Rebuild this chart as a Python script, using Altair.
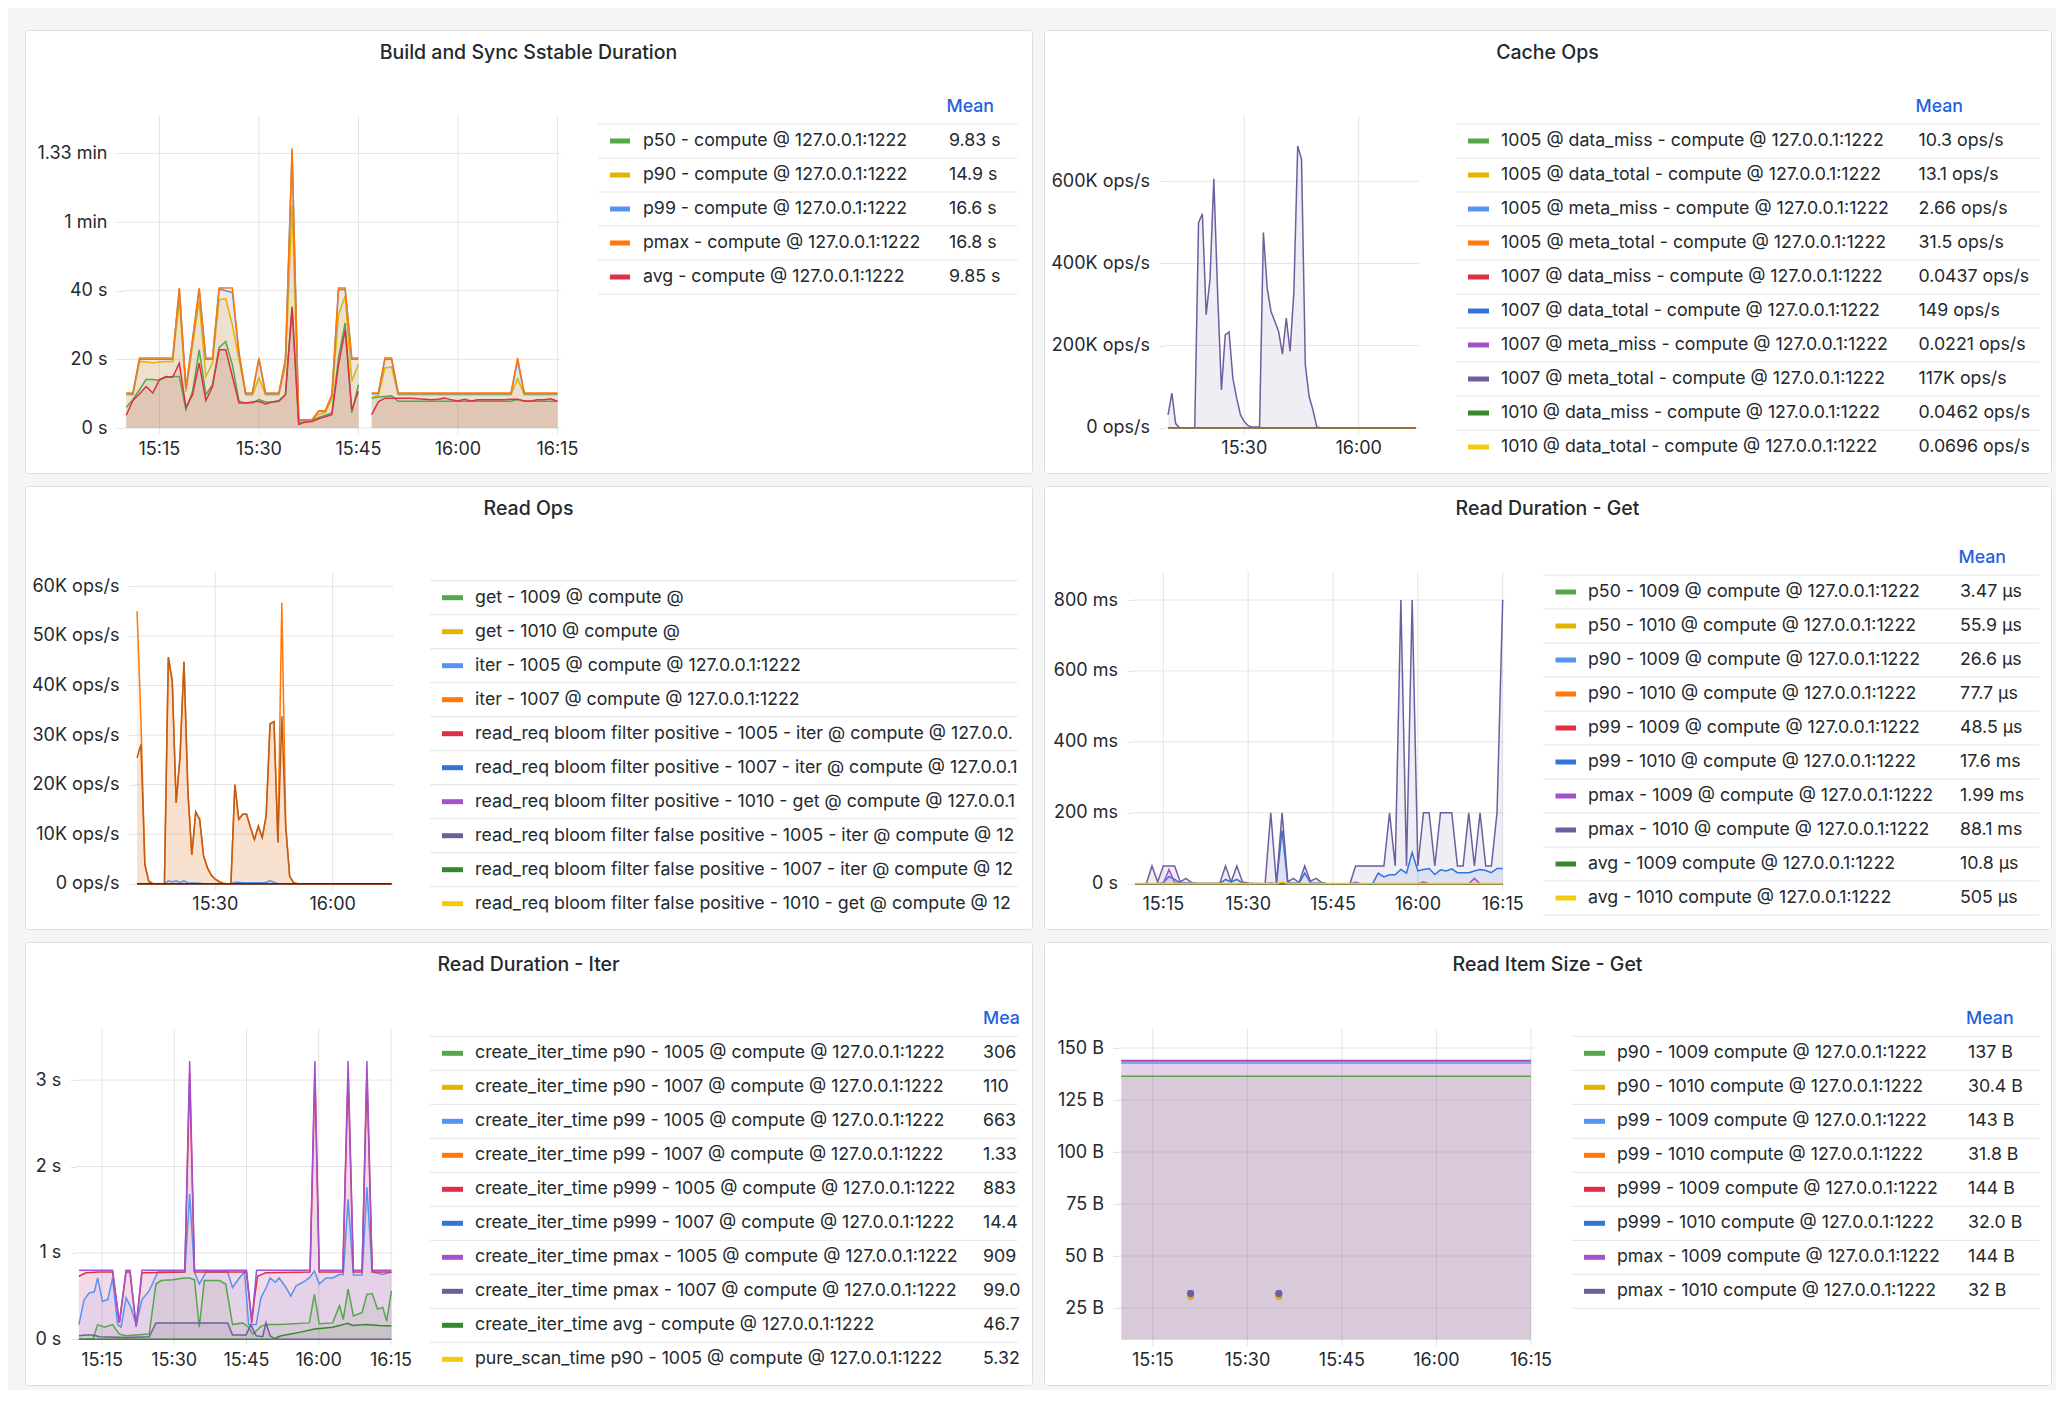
import altair as alt
import pandas as pd

FONT = "Inter"
TEXT = "#24292E"
GRID = "#E4E4E5"
SEP = "#E3E4E6"
HDR = "#1F62E0"
LEG_FS = 17.75
PALETTE = ["#56A64B", "#E0B400", "#5794F2", "#FF780A", "#E02F44", "#3274D9",
           "#A352CC", "#705DA0", "#37872D", "#F2CC0C", "#447EBC", "#C15C17", "#890F02"]

BASE = pd.Timestamp("2024-01-01 15:10:00")
MINUTES = list(range(66))          # one sample per minute, 15:10 .. 16:15

# x tick positions (minutes after 15:10) and their labels
ticks_full = [5, 20, 35, 50, 65]
labels_full = ["15:15", "15:30", "15:45", "16:00", "16:15"]
ticks_half = [20, 50]
labels_half = ["15:30", "16:00"]

# ---------------- Build and Sync Sstable Duration (seconds) ----------------
bs_names = ["p50 - compute @ 127.0.0.1:1222", "p90 - compute @ 127.0.0.1:1222",
            "p99 - compute @ 127.0.0.1:1222", "pmax - compute @ 127.0.0.1:1222",
            "avg - compute @ 127.0.0.1:1222"]
bs_means = ["9.83 s", "14.9 s", "16.6 s", "16.8 s", "9.85 s"]
bs_p50 = [6.0, 8.3, 11.2, 14.1, 14.1, 13.9, 14.8, 15.0, 15.0, 5.3,
          10.7, 22.8, 9.7, 12.6, 23.5, 25.2, 18.4, 7.8, 7.3, 7.3,
          8.3, 7.6, 7.6, 8.0, 9.7, 35.4, 1.5, 2.0, 2.3, 3.1,
          3.7, 4.4, 20.4, 30.6, 4.4, 12.6, None, 8.7, 9.0, 9.2,
          9.4, 7.8, 7.8, 7.8, 7.8, 7.8, 7.8, 7.8, 7.8, 7.8,
          7.8, 7.8, 7.8, 7.8, 7.8, 7.8, 7.8, 7.8, 7.8, 8.3,
          7.8, 7.8, 7.8, 7.8, 7.8, 7.8]
bs_p90 = [9.7, 9.7, 19.4, 19.2, 19.0, 19.2, 19.4, 19.4, 37.0, 10.5,
          24.0, 37.0, 15.0, 18.9, 37.4, 37.7, 30.0, 20.0, 9.7, 9.5,
          14.6, 9.7, 9.7, 9.7, 18.0, 65.0, 2.0, 2.2, 2.4, 4.0,
          4.5, 8.5, 33.0, 38.5, 13.6, 18.6, None, 8.9, 9.5, 17.5,
          17.8, 9.7, 9.7, 9.7, 9.7, 9.7, 9.7, 9.7, 9.7, 9.7,
          9.7, 9.7, 9.7, 9.7, 9.7, 9.7, 9.7, 9.7, 9.7, 14.4,
          9.7, 9.7, 9.7, 9.7, 9.7, 9.7]
bs_p99 = [10.0, 10.0, 20.0, 20.0, 20.0, 20.0, 20.0, 20.0, 40.5, 11.5,
          25.5, 40.5, 20.0, 20.0, 40.5, 40.0, 39.5, 21.5, 10.0, 10.0,
          20.0, 10.0, 10.0, 10.0, 19.8, 81.0, 2.3, 2.3, 2.3, 4.9,
          4.9, 9.6, 40.2, 40.5, 20.0, 20.0, None, 10.0, 10.0, 20.0,
          20.0, 10.0, 10.0, 10.0, 10.0, 10.0, 10.0, 10.0, 10.0, 10.0,
          10.0, 10.0, 10.0, 10.0, 10.0, 10.0, 10.0, 10.0, 10.0, 19.5,
          10.0, 10.0, 10.0, 10.0, 10.0, 10.0]
bs_pmax = [10.2, 10.2, 20.4, 20.4, 20.4, 20.4, 20.4, 20.4, 40.8, 11.7,
           26.0, 40.8, 20.4, 20.4, 40.8, 40.8, 40.8, 22.0, 10.2, 10.2,
           20.4, 10.2, 10.2, 10.2, 20.0, 81.5, 2.4, 2.4, 2.4, 5.0,
           5.0, 9.7, 40.8, 40.8, 20.4, 20.4, None, 10.2, 10.2, 20.4,
           20.4, 10.2, 10.2, 10.2, 10.2, 10.2, 10.2, 10.2, 10.2, 10.2,
           10.2, 10.2, 10.2, 10.2, 10.2, 10.2, 10.2, 10.2, 10.2, 20.4,
           10.2, 10.2, 10.2, 10.2, 10.2, 10.2]
bs_avg = [3.7, 8.0, 10.0, 12.1, 10.2, 14.1, 15.0, 14.8, 18.9, 6.0,
          9.7, 18.9, 8.0, 12.1, 22.8, 22.8, 15.0, 7.3, 7.3, 7.6,
          7.8, 7.0, 7.6, 7.8, 9.7, 35.0, 1.0, 1.7, 1.9, 2.7,
          3.3, 3.9, 18.4, 28.6, 5.3, 10.7, None, 3.9, 7.6, 8.7,
          8.7, 8.7, 8.7, 8.7, 8.5, 8.4, 8.2, 8.4, 8.7, 8.2,
          7.9, 8.4, 7.9, 8.2, 8.2, 8.2, 8.2, 8.2, 8.4, 8.4,
          7.9, 7.9, 8.2, 8.2, 8.5, 7.8]

# ---------------- Cache Ops (ops/s) ----------------
co_names = ["1005 @ data_miss - compute @ 127.0.0.1:1222", "1005 @ data_total - compute @ 127.0.0.1:1222",
            "1005 @ meta_miss - compute @ 127.0.0.1:1222", "1005 @ meta_total - compute @ 127.0.0.1:1222",
            "1007 @ data_miss - compute @ 127.0.0.1:1222", "1007 @ data_total - compute @ 127.0.0.1:1222",
            "1007 @ meta_miss - compute @ 127.0.0.1:1222", "1007 @ meta_total - compute @ 127.0.0.1:1222",
            "1010 @ data_miss - compute @ 127.0.0.1:1222", "1010 @ data_total - compute @ 127.0.0.1:1222"]
co_means = ["10.3 ops/s", "13.1 ops/s", "2.66 ops/s", "31.5 ops/s", "0.0437 ops/s", "149 ops/s",
            "0.0221 ops/s", "117K ops/s", "0.0462 ops/s", "0.0696 ops/s"]
co_hidden = ["series 11", "series 12"]          # rows scrolled out of the legend
co_small = [10.3, 13.1, 2.66, 31.5, 0.0437, 149, 0.0221, None, 0.0462, 0.0696, 0.0, 0.0]
co_meta_total_1007 = [31000, 84000, 10000, 0, 0, 0, 0, 0, 499000, 521000,
                      275000, 361000, 606000, 328000, 92000, 226000, 233000, 120000, 72000, 31000,
                      15000, 5000, 2000, 2000, 2000, 475000, 340000, 283000, 259000, 234000,
                      179000, 267000, 186000, 332000, 686000, 654000, 153000, 76000, 43000, 2000,
                      0, 0, 0, 0, 0, 0, 0, 0, 0, 0,
                      0, 0, 0, 0, 0, 0, 0, 0, 0, 0,
                      0, 0, 0, 0, 0, 0]

# ---------------- Read Ops (ops/s) ----------------
ro_names = ["get - 1009 @ compute @", "get - 1010 @ compute @",
            "iter - 1005 @ compute @ 127.0.0.1:1222", "iter - 1007 @ compute @ 127.0.0.1:1222",
            "read_req bloom filter positive - 1005 - iter @ compute @ 127.0.0.1:1222",
            "read_req bloom filter positive - 1007 - iter @ compute @ 127.0.0.1:1222",
            "read_req bloom filter positive - 1010 - get @ compute @ 127.0.0.1:1222",
            "read_req bloom filter false positive - 1005 - iter @ compute @ 127.0.0.1:1222",
            "read_req bloom filter false positive - 1007 - iter @ compute @ 127.0.0.1:1222",
            "read_req bloom filter false positive - 1010 - get @ compute @ 127.0.0.1:1222"]
ro_hidden = ["series 11", "series 12", "series 13"]
ro_iter_1005 = [0, 0, 0, 0, 0, 0, 0, 0, 600, 350,
                600, 250, 600, 200, 150, 150, 100, 0, 0, 0,
                0, 0, 0, 0, 0, 300, 300, 200, 200, 200,
                200, 200, 200, 300, 600, 300, 0, 0, 0, 0,
                0, 0, 0, 0, 0, 0, 0, 0, 0, 0,
                0, 0, 0, 0, 0, 0, 0, 0, 0, 0,
                0, 0, 0, 0, 0, 0]
ro_iter_1007 = [55000, 33000, 3900, 500, 0, 0, 0, 0, 45700, 40900,
                16300, 25800, 44800, 18700, 5800, 14500, 13000, 5600, 3200, 1700,
                900, 400, 100, 0, 0, 20000, 13000, 14000, 14000, 11300,
                8900, 11600, 9300, 13700, 32300, 32700, 8300, 56700, 12000, 1500,
                200, 0, 0, 0, 0, 0, 0, 0, 0, 0,
                0, 0, 0, 0, 0, 0, 0, 0, 0, 0,
                0, 0, 0, 0, 0, 0]
ro_series12 = [25400, 28100, 3900, 500, 0, 0, 0, 0, 45700, 40900,
               16300, 25800, 44800, 18700, 5800, 14500, 13000, 5600, 3200, 1700,
               900, 400, 100, 0, 0, 20000, 13000, 14000, 14000, 11300,
               8900, 11600, 9300, 13700, 32300, 32700, 8300, 33800, 11300, 1500,
               200, 0, 0, 0, 0, 0, 0, 0, 0, 0,
               0, 0, 0, 0, 0, 0, 0, 0, 0, 0,
               0, 0, 0, 0, 0, 0]

# ---------------- Read Duration - Get (ms) ----------------
rg_names = ["p50 - 1009 @ compute @ 127.0.0.1:1222", "p50 - 1010 @ compute @ 127.0.0.1:1222",
            "p90 - 1009 @ compute @ 127.0.0.1:1222", "p90 - 1010 @ compute @ 127.0.0.1:1222",
            "p99 - 1009 @ compute @ 127.0.0.1:1222", "p99 - 1010 @ compute @ 127.0.0.1:1222",
            "pmax - 1009 @ compute @ 127.0.0.1:1222", "pmax - 1010 @ compute @ 127.0.0.1:1222",
            "avg - 1009 compute @ 127.0.0.1:1222", "avg - 1010 compute @ 127.0.0.1:1222"]
rg_means = ["3.47 µs", "55.9 µs", "26.6 µs", "77.7 µs", "48.5 µs", "17.6 ms", "1.99 ms", "88.1 ms",
            "10.8 µs", "505 µs"]
rg_small = [0.00347, 0.0559, 0.0266, 0.0777, 0.0485]
rg_p99_1010 = [0, 0, 0, 0, 0, 3, 20, 12, 2, 2,
               1, 0, 0, 0, 0, 0, 12, 5, 12, 2,
               0, 0, 0, 0, 2, 0, 150, 3, 2, 1,
               30, 3, 2, 1, 0, 0, 0, 0, 0, 0,
               0, 0, 0, 30, 19, 25, 25, 40, 30, 88,
               36, 40, 43, 26, 39, 36, 42, 31, 31, 31,
               36, 40, 37, 31, 43, 43]
rg_pmax_1009 = [(0, 0), (5, 0), (6, 40), (7, 3), (8, 0), (38, 0), (39, 4), (40, 0), (50, 0), (51, 5),
                (52, 0), (59, 0), (60, 15), (61, 0), (65, 0)]
rg_pmax_1010 = [0, 0, 0, 50, 5, 50, 50, 50, 5, 15,
                3, 1, 1, 1, 1, 2, 50, 5, 50, 5,
                2, 1, 0.5, 0, 200, 0, 200, 5, 15, 3,
                50, 7, 15, 3, 0, 0, 0, 0, 0, 50,
                50, 50, 50, 50, 50, 200, 50, 800, 50, 800,
                50, 200, 200, 50, 200, 200, 200, 50, 50, 200,
                50, 200, 50, 50, 200, 800]
rg_avg_1009 = [(0, 0.0108), (65, 0.0108)]
rg_avg_1010 = [(0, 0.5), (25, 0.5), (26, 5), (27, 0.5), (65, 0.5)]

# ---------------- Read Duration - Iter (seconds; vertices as (minute, value)) ----------------
ri_names = ["create_iter_time p90 - 1005 @ compute @ 127.0.0.1:1222",
            "create_iter_time p90 - 1007 @ compute @ 127.0.0.1:1222",
            "create_iter_time p99 - 1005 @ compute @ 127.0.0.1:1222",
            "create_iter_time p99 - 1007 @ compute @ 127.0.0.1:1222",
            "create_iter_time p999 - 1005 @ compute @ 127.0.0.1:1222",
            "create_iter_time p999 - 1007 @ compute @ 127.0.0.1:1222",
            "create_iter_time pmax - 1005 @ compute @ 127.0.0.1:1222",
            "create_iter_time pmax - 1007 @ compute @ 127.0.0.1:1222",
            "create_iter_time avg - compute @ 127.0.0.1:1222",
            "pure_scan_time p90 - 1005 @ compute @ 127.0.0.1:1222"]
ri_means = ["306", "110", "663", "1.33", "883", "14.4", "909", "99.0", "46.7", "5.32"]
ri_p90_1005 = [(0.2, 0.0), (3.1, 0.0), (4.1, 0.17), (5.5, 0.14), (7.2, 0.17), (8.6, 0.06), (10.0, 0.04),
               (14.8, 0.06), (16.2, 0.64), (17.25, 0.68), (19.7, 0.69), (22.1, 0.71), (23.2, 0.71),
               (24.2, 0.69), (25.2, 0.14), (26.25, 0.68), (29.4, 0.68), (30.7, 0.64), (32.1, 0.17),
               (34.2, 0.19), (35.45, 0.14), (36.3, 0.06), (38.0, 0.15), (39.05, 0.17), (41.8, 0.17),
               (48.05, 0.19), (49.1, 0.52), (50.1, 0.18), (52.9, 0.19), (54.3, 0.39), (55.1, 0.23),
               (56.1, 0.58), (57.2, 0.27), (59.0, 0.31), (60.0, 0.52), (61.1, 0.53), (62.2, 0.35),
               (63.3, 0.37), (64.1, 0.21), (65.1, 0.56)]
ri_p99_1005 = [(0.2, 0.17), (1.3, 0.46), (2.4, 0.54), (3.4, 0.55), (4.1, 0.71), (5.1, 0.44), (6.2, 0.46),
               (7.2, 0.71), (8.25, 0.17), (8.95, 0.14), (10.0, 0.48), (11.0, 0.37), (12.1, 0.17),
               (13.3, 0.46), (14.8, 0.56), (16.6, 0.78), (22.2, 0.78), (23.2, 1.68), (24.2, 0.78),
               (25.2, 0.64), (26.6, 0.78), (31.1, 0.78), (32.1, 0.60), (33.5, 0.71), (34.6, 0.78),
               (35.45, 0.17), (37.0, 0.17), (38.0, 0.48), (39.1, 0.60), (39.9, 0.71), (41.0, 0.66),
               (41.8, 0.71), (43.2, 0.60), (44.2, 0.50), (45.3, 0.62), (46.7, 0.66), (48.05, 0.71),
               (49.1, 0.79), (50.1, 0.64), (51.5, 0.71), (52.9, 0.71), (54.3, 0.75), (55.1, 0.75),
               (56.1, 1.62), (57.2, 0.745), (59.0, 0.745), (60.0, 1.76), (61.1, 0.78), (63.3, 0.75),
               (65.1, 0.78)]
ri_p999_1005 = [(0.2, 0.73), (1.7, 0.77), (4.4, 0.78), (7.2, 0.78), (8.6, 0.19), (10.0, 0.78), (10.8, 0.78),
                (12.1, 0.15), (13.3, 0.77), (22.2, 0.78), (23.2, 3.07), (24.2, 0.78), (35.0, 0.78),
                (36.1, 0.19), (36.6, 0.45), (37.3, 0.73), (39.0, 0.77), (48.2, 0.78), (49.2, 3.07),
                (50.1, 0.78), (55.0, 0.78), (56.1, 3.07), (57.2, 0.78), (59.0, 0.78), (60.0, 3.07),
                (61.1, 0.78), (65.1, 0.78)]
ri_pmax_1005 = [(0.2, 0.80), (7.2, 0.80), (8.6, 0.19), (10.0, 0.80), (10.8, 0.80), (12.1, 0.15), (13.3, 0.80),
                (22.2, 0.80), (23.2, 3.22), (24.2, 0.80), (35.0, 0.80), (36.1, 0.21), (37.1, 0.80),
                (48.2, 0.80), (49.2, 3.22), (50.1, 0.80), (55.0, 0.80), (56.1, 3.22), (57.2, 0.80),
                (59.0, 0.80), (60.0, 3.22), (61.1, 0.80), (65.1, 0.80)]
ri_pmax_1007 = [(0.2, 0.04), (1.7, 0.05), (3.1, 0.05), (4.5, 0.03), (10.0, 0.02), (14.8, 0.03), (16.2, 0.19),
                (31.1, 0.19), (32.1, 0.05), (34.9, 0.05), (35.9, 0.17), (37.0, 0.04), (38.35, 0.03),
                (39.05, 0.19), (39.9, 0.04), (41.0, 0.0), (65.1, 0.0)]
ri_avg = [(0.2, 0.0), (40.4, 0.0), (42.2, 0.04), (46.0, 0.08), (49.1, 0.12), (52.9, 0.14), (56.1, 0.185),
          (57.0, 0.16), (59.8, 0.17), (62.6, 0.16), (65.1, 0.155)]

# ---------------- Read Item Size - Get (bytes) ----------------
rs_names = ["p90 - 1009 compute @ 127.0.0.1:1222", "p90 - 1010 compute @ 127.0.0.1:1222",
            "p99 - 1009 compute @ 127.0.0.1:1222", "p99 - 1010 compute @ 127.0.0.1:1222",
            "p999 - 1009 compute @ 127.0.0.1:1222", "p999 - 1010 compute @ 127.0.0.1:1222",
            "pmax - 1009 compute @ 127.0.0.1:1222", "pmax - 1010 compute @ 127.0.0.1:1222"]
rs_means = ["137 B", "30.4 B", "143 B", "31.8 B", "144 B", "32.0 B", "144 B", "32 B"]
rs_1009 = [136.5, 142.8, 144.0, 143.8]           # p90, p99, p999, pmax (flat)
rs_1010_times = [11.0, 25.0]
rs_1010 = [30.4, 31.8, 32.0, 32.0]               # p90, p99, p999, pmax (isolated samples)


# ====================================================================
def ts(t):
    x = BASE + pd.Timedelta(minutes=t)
    return x.strftime("%Y-%m-%dT%H:%M:%S") + ".%03d" % (x.microsecond // 1000)


def dt(t):
    x = BASE + pd.Timedelta(minutes=t)
    return alt.DateTime(year=x.year, month=x.month, date=x.day, hours=x.hour, minutes=x.minute,
                        seconds=x.second, milliseconds=x.microsecond // 1000)


def mins(name, vals):
    return (name, MINUTES, vals)


def verts(name, pts):
    return (name, [p[0] for p in pts], [p[1] for p in pts])


def frame(series):
    rows = []
    for name, times, vals in series:
        assert len(times) == len(vals), name
        seg = 0
        for t, v in zip(times, vals):
            if v is None:
                seg += 1
                continue
            rows.append({"series": name, "time": ts(t), "value": v, "seg": f"{name}|{seg}"})
    return pd.DataFrame(rows)


W, H = 1007, 443


def panel(p):
    L, R, T, B = p["plot"]
    t0, t1 = p["tdom"]
    y0, y1 = p["ydom"]
    xs = alt.Scale(domain=[dt(t0), dt(t1)], range=[L, R])
    ys = alt.Scale(domain=[y0, y1], range=[B, T], zero=False, nice=False, clamp=True)
    keys = p["names"] + p.get("hidden", [])
    cs = alt.Scale(domain=keys, range=PALETTE[:len(keys)])

    yaxis = alt.Axis(values=p["yticks"], labelExpr=p["ylab"], grid=False, domain=False, ticks=True,
                     tickSize=6, tickColor=GRID, labelFont=FONT, labelFontSize=18, labelColor=TEXT,
                     labelPadding=9.5, offset=-L, labelOverlap=False, title=None)

    layers = []
    hg = alt.Chart(pd.DataFrame({"v": p["yticks"]})).mark_rule(color=GRID, strokeWidth=1).encode(
        y=alt.Y("v:Q", scale=ys, axis=None),
        x=alt.XDatum(dt(t0), type="temporal", scale=xs, axis=None),
        x2=alt.X2Datum(dt(t1)))
    xt = pd.DataFrame({"t": [ts(t) for t in p["xticks"]], "label": p["xlabels"]})
    vg = alt.Chart(xt).mark_rule(color=GRID, strokeWidth=1).encode(
        x=alt.X("t:T", scale=xs, axis=None),
        y=alt.YDatum(y0, type="quantitative", scale=ys, axis=None),
        y2=alt.Y2Datum(y1))
    vt = alt.Chart(xt).mark_rule(color=GRID, strokeWidth=1).encode(
        x=alt.X("t:T", scale=xs, axis=None), y=alt.value(B), y2=alt.value(B + 6))
    vl = alt.Chart(xt).mark_text(align="center", baseline="middle", font=FONT, fontSize=18,
                                 color=TEXT).encode(
        x=alt.X("t:T", scale=xs, axis=None), y=alt.value(B + 21.5), text="label:N")
    layers += [hg, vg, vt, vl]

    df = frame(p["series"])
    area = alt.Chart(df).mark_area(fillOpacity=0.1, interpolate="linear").encode(
        x=alt.X("time:T", scale=xs, axis=None),
        y=alt.Y("value:Q", scale=ys, axis=yaxis, stack=None),
        y2=alt.Y2Datum(y0),
        color=alt.Color("series:N", scale=cs, legend=None),
        detail="seg:N")
    line = alt.Chart(df).mark_line(strokeWidth=1.5, interpolate="linear").encode(
        x=alt.X("time:T", scale=xs, axis=None),
        y=alt.Y("value:Q", scale=ys, axis=None),
        color=alt.Color("series:N", scale=cs, legend=None),
        detail="seg:N")
    layers += [area, line]

    if "points" in p:
        pdf = frame(p["points"])
        pts = alt.Chart(pdf).mark_circle(size=48, opacity=1).encode(
            x=alt.X("time:T", scale=xs, axis=None),
            y=alt.Y("value:Q", scale=ys, axis=None),
            color=alt.Color("series:N", scale=cs, legend=None))
        layers.append(pts)

    # ---- legend table
    lg = p["legend"]
    n = len(p["names"])
    rs = alt.Scale(domain=[0, 1], range=[lg["y0"], lg["y0"] + 34], zero=False, nice=False)
    rows = pd.DataFrame({"row": list(range(n)), "series": p["names"]})
    seps = pd.DataFrame({"r": [i - 0.5 for i in range(lg["nsep"] + 1)]})
    layers.append(alt.Chart(seps).mark_rule(color=SEP, strokeWidth=1).encode(
        x=alt.value(lg["table"][0]), x2=alt.value(lg["table"][1]),
        y=alt.Y("r:Q", scale=rs, axis=None)))
    layers.append(alt.Chart(rows).mark_rule(strokeWidth=5).encode(
        x=alt.value(lg["sw"][0]), x2=alt.value(lg["sw"][1]),
        y=alt.Y("row:Q", scale=rs, axis=None),
        color=alt.Color("series:N", scale=cs, legend=None)))
    textkw = dict(align="left", baseline="middle", font=FONT, fontSize=LEG_FS, color=TEXT)
    if "limit" in lg:
        textkw.update(limit=lg["limit"], ellipsis="\u200b")
    layers.append(alt.Chart(rows).mark_text(**textkw).encode(
        x=alt.value(lg["tx"]), y=alt.Y("row:Q", scale=rs, axis=None), text="series:N"))
    if "means" in p:
        vrows = pd.DataFrame({"row": list(range(n)), "mean": p["means"]})
        layers.append(alt.Chart(vrows).mark_text(align="left", baseline="middle", font=FONT,
                                                 fontSize=LEG_FS, color=TEXT).encode(
            x=alt.value(lg["vx"]), y=alt.Y("row:Q", scale=rs, axis=None), text="mean:N"))
    if "header" in lg:
        hx, hy, ha = lg["hpos"]
        layers.append(alt.Chart(pd.DataFrame({"h": [lg["header"]]})).mark_text(
            align=ha, baseline="middle", font=FONT, fontSize=LEG_FS, fontWeight=500, color=HDR).encode(
            x=alt.value(hx), y=alt.value(hy), text="h:N"))

    layers.append(alt.Chart(pd.DataFrame({"title": [p["title"]]})).mark_text(
        align="center", baseline="middle", font=FONT, fontSize=19.5, fontWeight=500, color=TEXT).encode(
        x=alt.value(W / 2), y=alt.value(23), text="title:N"))

    return alt.layer(*layers).resolve_scale(y="independent").properties(width=W, height=H)


P1 = dict(
    title="Build and Sync Sstable Duration",
    plot=(97.5, 536, 86, 398), tdom=(-0.563, 65.54), ydom=(0, 90.9),
    xticks=ticks_full, xlabels=labels_full, yticks=[0, 20, 40, 60, 80],
    ylab="datum.value < 60 ? datum.value + ' s' : format(datum.value / 60, '.3~') + ' min'",
    names=bs_names, means=bs_means,
    series=[mins(bs_names[0], bs_p50), mins(bs_names[1], bs_p90), mins(bs_names[2], bs_p99),
            mins(bs_names[3], bs_pmax), mins(bs_names[4], bs_avg)],
    legend=dict(sw=(585, 605), tx=618, vx=924, table=(573, 992.5), y0=111, nsep=5,
                header="Mean", hpos=(969, 77, "right")),
)

co_series = []
for nm, v in zip(co_names + co_hidden, co_small):
    if v is not None:
        co_series.append(verts(nm, [(0, v), (65, v)]))
co_series.insert(7, mins(co_names[7], co_meta_total_1007))
P2 = dict(
    title="Cache Ops",
    plot=(121, 375, 86, 397.7), tdom=(-0.8, 65.81), ydom=(0, 759000),
    xticks=ticks_half, xlabels=labels_half, yticks=[0, 200000, 400000, 600000],
    ylab="datum.value == 0 ? '0 ops/s' : (datum.value / 1000) + 'K ops/s'",
    names=co_names, hidden=co_hidden, means=co_means,
    series=co_series,
    legend=dict(sw=(424, 445), tx=457, vx=874.5, table=(412, 995), y0=111, nsep=9,
                header="Mean", hpos=(919, 77, "right")),
)

ro_series = [verts(ro_names[0], [(0, 0), (65, 0)]), verts(ro_names[1], [(0, 0), (65, 0)]),
             mins(ro_names[2], ro_iter_1005), mins(ro_names[3], ro_iter_1007)]
for nm in ro_names[4:]:
    ro_series.append(verts(nm, [(0, 0), (65, 0)]))
ro_series += [verts(ro_hidden[0], [(0, 0), (65, 0)]), mins(ro_hidden[1], ro_series12),
              verts(ro_hidden[2], [(0, 0), (65, 0)])]
P3 = dict(
    title="Read Ops",
    plot=(109.4, 368.7, 86, 397.7), tdom=(-0.67, 65.59), ydom=(0, 62900),
    xticks=ticks_half, xlabels=labels_half, yticks=[0, 10000, 20000, 30000, 40000, 50000, 60000],
    ylab="datum.value == 0 ? '0 ops/s' : (datum.value / 1000) + 'K ops/s'",
    names=ro_names, hidden=ro_hidden,
    series=ro_series,
    legend=dict(sw=(417, 438), tx=450, table=(405, 992.5), y0=111.7, nsep=9, limit=543),
)

rg_series = [verts(nm, [(0, v), (65, v)]) for nm, v in zip(rg_names[:5], rg_small)]
rg_series += [mins(rg_names[5], rg_p99_1010), verts(rg_names[6], rg_pmax_1009),
              mins(rg_names[7], rg_pmax_1010), verts(rg_names[8], rg_avg_1009),
              verts(rg_names[9], rg_avg_1010)]
P4 = dict(
    title="Read Duration - Get",
    plot=(89, 461, 86, 397.7), tdom=(-0.356, 65.41), ydom=(0, 879),
    xticks=ticks_full, xlabels=labels_full, yticks=[0, 200, 400, 600, 800],
    ylab="datum.value == 0 ? '0 s' : datum.value + ' ms'",
    names=rg_names, means=rg_means,
    series=rg_series,
    legend=dict(sw=(511.5, 532), tx=544, vx=916, table=(499, 995), y0=106, nsep=10,
                header="Mean", hpos=(962, 72.3, "right")),
)

P5 = dict(
    title="Read Duration - Iter",
    plot=(51.3, 368, 86.3, 397.3), tdom=(-0.335, 65.42), ydom=(0, 3.6),
    xticks=ticks_full, xlabels=labels_full, yticks=[0, 1, 2, 3],
    ylab="datum.value + ' s'",
    names=ri_names, means=ri_means,
    series=[verts(ri_names[0], ri_p90_1005), verts(ri_names[2], ri_p99_1005),
            verts(ri_names[4], ri_p999_1005), verts(ri_names[6], ri_pmax_1005),
            verts(ri_names[7], ri_pmax_1007), verts(ri_names[8], ri_avg)],
    legend=dict(sw=(417, 438), tx=450, vx=958, table=(405, 992.5), y0=111.3, nsep=9,
                header="Mea", hpos=(958, 76.7, "left")),
)

P6 = dict(
    title="Read Item Size - Get",
    plot=(75, 490, 86.3, 397.7), tdom=(-0.363, 65.48), ydom=(9.76, 159.5),
    xticks=ticks_full, xlabels=labels_full, yticks=[25, 50, 75, 100, 125, 150],
    ylab="datum.value + ' B'",
    names=rs_names, means=rs_means,
    series=[verts(rs_names[i], [(0, v), (65, v)]) for i, v in zip([0, 2, 4, 6], rs_1009)],
    points=[(rs_names[i], rs_1010_times, [v, v]) for i, v in zip([1, 3, 5, 7], rs_1010)],
    legend=dict(sw=(540, 561), tx=573, vx=924, table=(528, 995), y0=111.3, nsep=8,
                header="Mean", hpos=(969.6, 76.7, "right")),
)

chart = (alt.concat(*[panel(p) for p in (P1, P2, P3, P4, P5, P6)], columns=2,
                    spacing=alt.RowColnumber(row=13, column=12), bounds="flush")
         .resolve_scale(color="independent")
         .properties(padding={"left": 16, "top": 21, "right": 4, "bottom": 4})
         .configure(background="#F4F5F5", font=FONT)
         .configure_view(fill="white", stroke="#DCDEE1", strokeWidth=1, cornerRadius=3))

chart.save("out.html", embed_options={"renderer": "svg", "actions": False})
